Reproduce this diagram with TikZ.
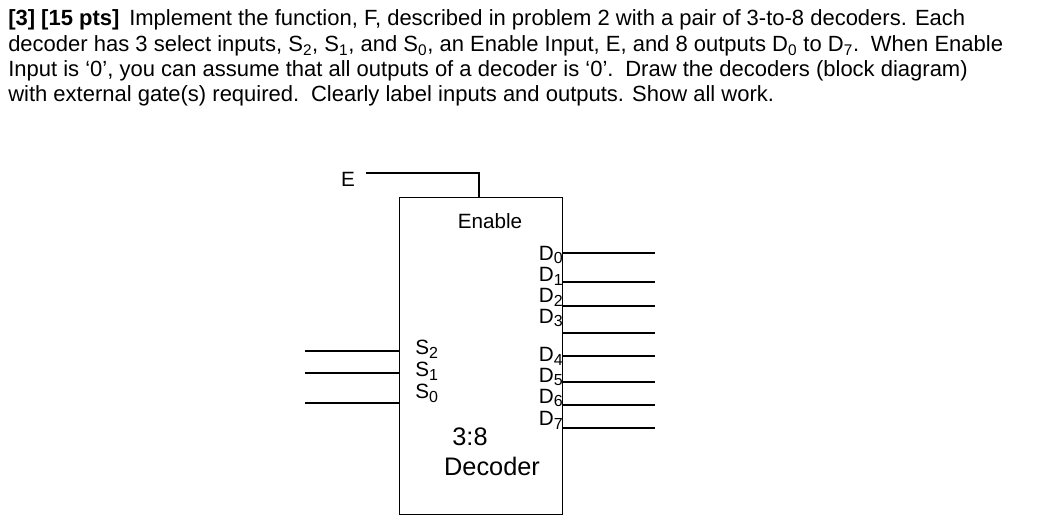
\documentclass[tikz,border=0pt]{standalone}
\usepackage{fontspec}
\setmainfont{Liberation Sans}
\newcommand{\sbx}[1]{\raisebox{-0.35ex}{\fontsize{12}{14}\selectfont #1}}
\begin{document}
\begin{tikzpicture}[x=0.75pt,y=-0.75pt,
  ttl/.style={anchor=base west,inner sep=0pt,font=\fontsize{16.5}{19}\selectfont},
  lbl/.style={inner sep=0pt,font=\fontsize{15.5}{18}\selectfont},
  dl/.style={inner sep=0pt,anchor=east,font=\fontsize{15.5}{18}\selectfont},
  wire/.style={line width=0.8pt}]
\useasboundingbox (0,0) rectangle (1055,524);
\node[ttl] (t1) at (8,26) {\textbf{[3] [15 pts]}\, Implement the function, F, described in problem 2 with a pair of 3-to-8 decoders. Each};
\node[ttl] (t2) at (8,52) {decoder has 3 select inputs, S\textsubscript{2}, S\textsubscript{1}, and S\textsubscript{0}, an Enable Input, E, and 8 outputs D\textsubscript{0} to D\textsubscript{7}.\, When Enable};
\node[ttl] (t3) at (8,77) {Input is ‘0’, you can assume that all outputs of a decoder is ‘0’.\, Draw the decoders (block diagram)};
\node[ttl] (t4) at (8,102) {with external gate(s) required.\, Clearly label inputs and outputs. Show all work.};
\node[draw,wire,minimum width=163*0.75pt,minimum height=317*0.75pt,inner sep=0pt,anchor=north west] (dec) at (399,197) {};
\node[lbl] (E) at (348,179) {E};
\coordinate (ec) at (479,173);
\draw[wire] (366,173) -- (ec) -- (dec.north -| ec);
\node[lbl] (en) at (490,221) {Enable};
\node[lbl,anchor=west] (s2) at (415,349) {S\sbx{2}};
\node[lbl,anchor=west] (s1) at (415,371) {S\sbx{1}};
\node[lbl,anchor=west] (s0) at (415,393) {S\sbx{0}};
\foreach \y [count=\i] in {351,373,403} {
  \coordinate (in\i) at (305,\y);
  \draw[wire] (in\i) -- (in\i -| dec.west);
}
\foreach \y/\n in {255/0,276/1,297/2,318/3,356/4,377/5,398/6,420/7} {
  \node[dl] (d\n) at (563,\y) {D\sbx{\n}};
}
\foreach \y [count=\i] in {253,282,306,333,356,382,405,428} {
  \coordinate (o\i) at (655,\y);
  \draw[wire] (o\i -| dec.east) -- (o\i);
}
\node[lbl] (r) at (470,437) {\fontsize{19}{22}\selectfont 3:8};
\node[lbl] (dc) at (492,466) {\fontsize{19}{22}\selectfont Decoder};
\end{tikzpicture}
\end{document}
